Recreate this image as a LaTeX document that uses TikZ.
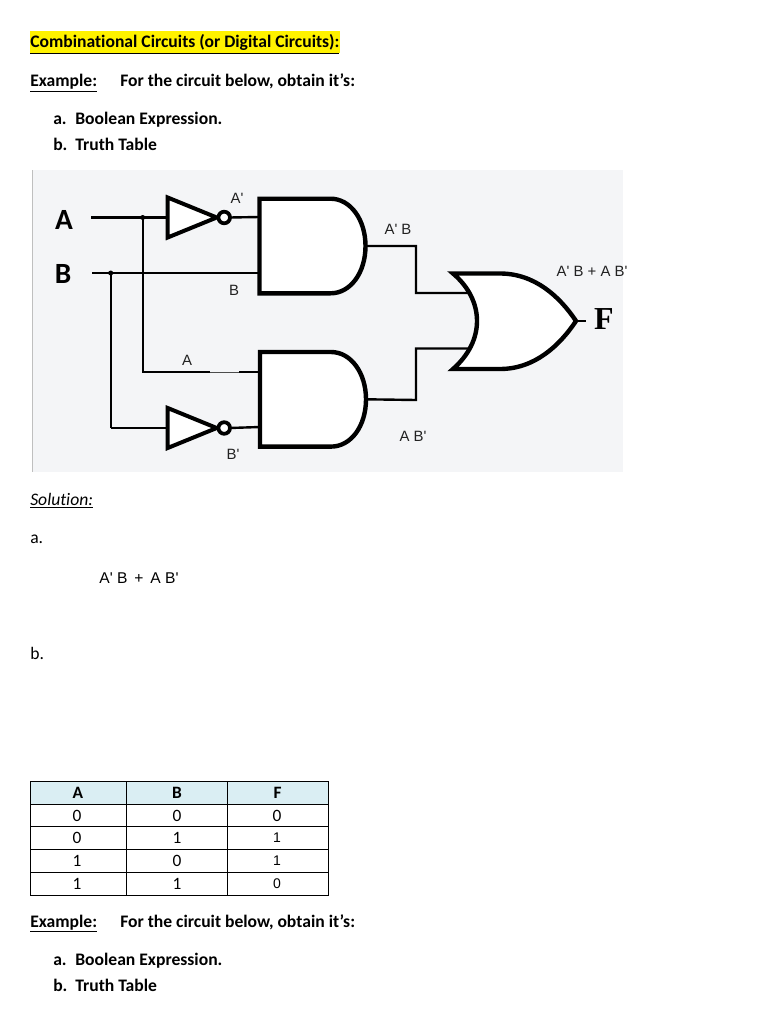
\documentclass[tikz,border=0pt]{standalone}
\usepackage{fontspec}
\setmainfont[Ligatures=NoCommon]{Carlito}
\newfontfamily\arialfont{Liberation Sans}
\newfontfamily\timesfont{Liberation Serif}
\definecolor{panelgray}{HTML}{F4F5F7}
\definecolor{headblue}{HTML}{DAEEF3}
\definecolor{labelgray}{HTML}{222222}
\tikzset{
	doc/.style={anchor=base west, inner sep=0pt, font=\fontsize{13.2}{15}\selectfont\bfseries},
	plain/.style={anchor=base west, inner sep=0pt, font=\fontsize{13.2}{15}\selectfont},
	wirelabel/.style={inner sep=0pt, text=labelgray, font=\fontsize{11.2}{13}\selectfont\arialfont},
	wire/.style={line width=1.8pt},
	gate/.style={line width=3.3pt, fill=white, line join=miter},
	cell/.style={inner sep=0pt, font=\fontsize{13}{15}\selectfont},
	smallcell/.style={inner sep=0pt, font=\fontsize{10.5}{12}\selectfont\arialfont},
	bighead/.style={inner sep=0pt, font=\fontsize{22}{24}\selectfont\bfseries},
}
\def\andgate(#1,#2)#3{
	\begin{scope}[shift={(#1,#2)}]
		\draw[gate] (0,0) -- (71,0) .. controls (91,0) and (106,21) .. (106,47.3) .. controls (106,74) and (91,94.6) .. (71,94.6) -- (0,94.6) -- cycle;
		\coordinate (#3out) at (106,47.3);
	\end{scope}
}
\def\notgate(#1,#2)#3{
	\begin{scope}[shift={(#1,#2)}]
		\draw[gate, line width=3pt] (0,-20) -- (49,0) -- (0,20) -- cycle;
		\draw[line width=2.8pt, fill=white] (56.5,0) circle (5.8);
		\coordinate (#3in) at (0,0);
		\coordinate (#3out) at (62,0);
	\end{scope}
}

\begin{document}
\begin{tikzpicture}[x=0.75pt, y=-0.75pt]
			%%%%% START %%%%%
			\useasboundingbox (0,0) rectangle (768,1024);
			\fill[white] (0,0) rectangle (768,1024);

			\fill[yellow] (30,31) rectangle (340,53);
			\node[doc] (title) at (30,48) {\underline{Combinational Circuits (or Digital Circuits):}};
			\node[doc] (ex1) at (30,87) {\underline{Example:}};
			\node[doc] (ask1) at (120,87) {For the circuit below, obtain it’s:};
			\node[doc] (a1) at (53,124) {a.};
			\node[doc] (bool1) at (75,124) {Boolean Expression.};
			\node[doc] (b1) at (53,150) {b.};
			\node[doc] (truth1) at (75,150) {Truth Table};

			% circuit panel
			\fill[panelgray] (32,170) rectangle (623,472);
			\draw[black!25, line width=0.75pt] (32,170) -- (32,472);

			\node[bighead] (inA) at (64,220) {A};
			\node[bighead] (inB) at (63,274) {B};

			\coordinate (Astart) at (91,217.5);
			\coordinate (Bstart) at (92,273);
			\coordinate (Adot) at (142.7,217.5);
			\coordinate (Bdot) at (110.7,273);
			\coordinate (Aturn) at (142.7,372);
			\coordinate (Bturn) at (110.7,428);
			\coordinate (thin1) at (210,372);
			\coordinate (thin2) at (239,372);
			\coordinate (top1) at (259.5,217);
			\coordinate (top2) at (259.5,273);
			\coordinate (bot1) at (260,372);
			\coordinate (bot2) at (260,427);
			\coordinate (upturn1) at (416,246);
			\coordinate (upturn2) at (416,293);
			\coordinate (downturn1) at (416,400);
			\coordinate (downturn2) at (416,348.5);
			\coordinate (orin1) at (472,293);
			\coordinate (orin2) at (472,348.5);
			\coordinate (orend) at (586,321);

			\draw[wire] (Astart) -- (Adot) -- (Aturn) -- (thin1);
			\draw[line width=0.75pt, black!70] (thin1) -- (thin2);
			\draw[wire] (thin2) -- (bot1);
			\draw[wire] (Bstart) -- (top2);
			\draw[wire] (Bdot) -- (Bturn);
			\draw[wire] (Adot) -- (170,217.5);
			\draw[wire] (Bturn) -- (170,428);
			\fill (Adot) circle (2.5);
			\fill (Bdot) circle (2.5);

			\notgate(167.7,217.5){inv1}
			\notgate(167.7,428){inv2}
			\draw[wire] (inv1out) -- (top1);
			\draw[wire] (inv2out) -- (bot2);

			\andgate(259.5,198.7){and1}
			\andgate(260,352){and2}

			\draw[wire] (and1out) -- (upturn1) -- (upturn2) -- (orin1);
			\draw[wire] (and2out) -- (downturn1) -- (downturn2) -- (orin2);

			\draw[gate] (453,273.5) -- (500,273.5) .. controls (535,273.5) and (560,297) .. (576,321) .. controls (560,345) and (535,369) .. (500,369) -- (453,369) .. controls (469,355) and (477,338) .. (477,321) .. controls (477,304) and (469,287) .. cycle;
			\coordinate (orout) at (577,321);
			\draw[line width=0.9pt] (orout) -- (orend);
			\node[inner sep=0pt, font=\fontsize{24}{26}\selectfont\bfseries\timesfont] (outF) at (604,319) {F};

			\node[wirelabel] (lab1) at (237,198) {A'};
			\node[wirelabel] (lab2) at (234,290) {B};
			\node[wirelabel] (lab3) at (187,360) {A};
			\node[wirelabel] (lab4) at (233,454) {B'};
			\node[wirelabel] (lab5) at (398,229) {A' B};
			\node[wirelabel] (lab6) at (413,436) {A B'};
			\node[wirelabel] (lab7) at (592,271) {A' B + A B'};

			\node[anchor=base west, inner sep=0pt, font=\fontsize{13.2}{15}\selectfont\itshape] (sol) at (30,505) {\underline{Solution:}};
			\node[plain] (a2) at (30,543) {a.};
			\node[wirelabel, text=black, font=\fontsize{11.7}{13}\selectfont\arialfont] (answer) at (139,578) {A' B \,+\, A B'};
			\node[plain] (b2) at (30,659) {b.};

			% truth table
			\fill[headblue] (30,781.7) rectangle (328.7,804);
			\draw[line width=0.75pt] (30,781.7) rectangle (328.7,895);
			\foreach \y in {804,826.7,849.3,872.3}
				\draw[line width=0.75pt] (30,\y) -- (328.7,\y);
			\foreach \x in {126,227.3}
				\draw[line width=0.75pt] (\x,781.7) -- (\x,895);
			\node[cell, font=\fontsize{13}{15}\selectfont\bfseries] (headA) at (78,793) {A};
			\node[cell, font=\fontsize{13}{15}\selectfont\bfseries] (headB) at (177,793) {B};
			\node[cell, font=\fontsize{13}{15}\selectfont\bfseries] (headF) at (277.5,793) {F};
			\foreach \y/\a/\b [count=\r] in {815.5/0/0,838/0/1,861/1/0,884/1/1}{
				\node[cell] (rowA\r) at (77,\y) {\a};
				\node[cell] (rowB\r) at (177,\y) {\b};
			}
			\node[cell] (rowF1) at (277,815.5) {0};
			\node[smallcell] (rowF2) at (277,838) {1};
			\node[smallcell] (rowF3) at (277,861) {1};
			\node[smallcell] (rowF4) at (277,884) {0};

			\node[doc] (ex2) at (30,927) {\underline{Example:}};
			\node[doc] (ask2) at (120,927) {For the circuit below, obtain it’s:};
			\node[doc] (a3) at (53,965) {a.};
			\node[doc] (bool2) at (75,965) {Boolean Expression.};
			\node[doc] (b3) at (53,991) {b.};
			\node[doc] (truth2) at (75,991) {Truth Table};
			%%%%% END %%%%%
		\end{tikzpicture}
\end{document}
